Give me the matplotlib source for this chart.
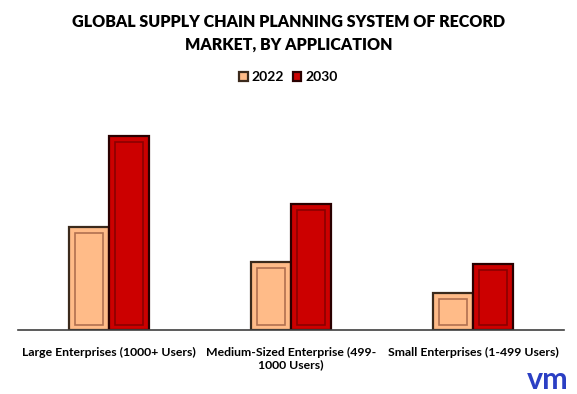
import matplotlib
matplotlib.use("Agg")
import matplotlib.pyplot as plt
import numpy as np

categories = ["Large Enterprises (1000+ Users)", "Medium-Sized Enterprise (499-\n1000 Users)", "Small Enterprises (1-499 Users)"]
years = ["2022", "2030"]
values_2022 = [1.03, 0.68, 0.37]
values_2030 = [1.94, 1.26, 0.66]

plt.rcParams['font.family'] = ['Lato', 'DejaVu Sans']

fig = plt.figure(figsize=(5.77, 3.94), dpi=100)
ax = fig.add_axes([18/577, 64/394, 546/577, 200/394])

x = np.arange(len(categories))
w = 0.22
fills = ["#FFBB88", "#CC0000"]
edges = ["#3b2a1c", "#2a0000"]
inner = ["#b07050", "#8a0000"]
series = [values_2022, values_2030]
for i, (vals, fc, ec, ic, lab) in enumerate(zip(series, fills, edges, inner, years)):
    xs = x + (i - 0.5) * w
    ax.bar(xs, vals, width=w, color=fc, edgecolor=ec, linewidth=1.6, label=lab, zorder=2)
    v = np.array(vals)
    ax.bar(xs, v - 0.11, bottom=0.05, width=w * 0.72, fill=False, edgecolor=ic, linewidth=1.2, zorder=3)

ax.set_xlim(-0.5, 2.5)
ax.set_ylim(0, 2.0)
ax.set_yticks([])
for s in ["top", "right", "left"]:
    ax.spines[s].set_visible(False)
ax.spines["bottom"].set_color("#404040")
ax.spines["bottom"].set_linewidth(1.2)
ax.set_xticks(x)
ax.set_xticklabels(categories, fontsize=8.8, fontweight="bold")
ax.tick_params(axis="x", length=0, pad=12)

fig.text(0.5, 1 - 22/394, "GLOBAL SUPPLY CHAIN PLANNING SYSTEM OF RECORD", ha="center", va="center",
         fontsize=11.5, fontweight="heavy")
fig.text(0.5, 1 - 45/394, "MARKET, BY APPLICATION", ha="center", va="center",
         fontsize=11.5, fontweight="heavy")

leg = fig.legend(*ax.get_legend_handles_labels(), loc="center", bbox_to_anchor=(0.5, 1 - 77/394), ncol=2,
                 frameon=False, handlelength=0.6, handleheight=0.6, handletextpad=0.3,
                 columnspacing=0.6, prop={"weight": "bold", "size": 10})

fig.text(548/577, 1 - 380/394, "vm", ha="center", va="center", fontsize=22, color="#2b3fc4",
         fontweight="bold")

fig.savefig("out.png", dpi=100)
